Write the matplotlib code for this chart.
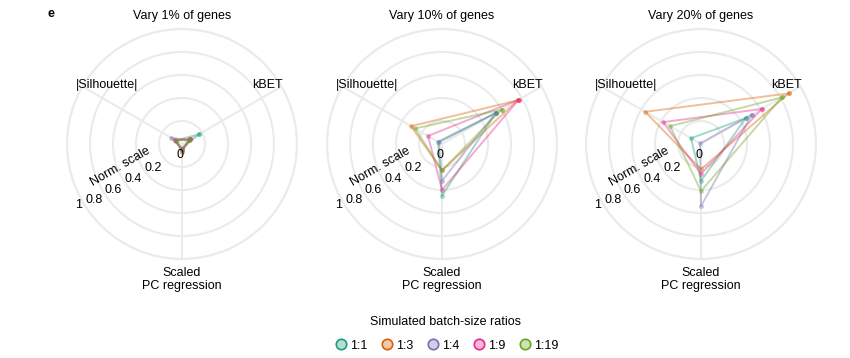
import numpy as np
import matplotlib.pyplot as plt
from matplotlib.lines import Line2D

plt.rcParams['font.family'] = ['Liberation Sans', 'DejaVu Sans']

ratios = ['1:1', '1:3', '1:4', '1:9', '1:19']
colors = ['#1B9E77', '#D95F02', '#7570B3', '#E7298A', '#66A61E']
titles = ['Vary 1% of genes', 'Vary 10% of genes', 'Vary 20% of genes']

# values per ratio (1:1, 1:3, 1:4, 1:9, 1:19)
kbet_1 = [0.17, 0.08, 0.07, 0.08, 0.07]
sil_1 = [0.06, 0.07, 0.11, 0.07, 0.06]
pcr_1 = [0.04, 0.05, 0.04, 0.06, 0.07]

kbet_10 = [0.54, 0.76, 0.54, 0.77, 0.60]
sil_10 = [0.04, 0.31, 0.03, 0.14, 0.27]
pcr_10 = [0.45, 0.23, 0.32, 0.40, 0.23]

kbet_20 = [0.45, 0.88, 0.51, 0.61, 0.81]
sil_20 = [0.10, 0.56, 0.01, 0.38, 0.31]
pcr_20 = [0.32, 0.22, 0.54, 0.26, 0.41]

panels = [(kbet_1, sil_1, pcr_1), (kbet_10, sil_10, pcr_10), (kbet_20, sil_20, pcr_20)]
angles = np.deg2rad([30, 150, 270])
rticks = [0.2, 0.4, 0.6, 0.8, 1.0]
rlabels = ['0', '0.2', '0.4', '0.6', '0.8', '1']
label_dy = [-7.9, -9.2, -8.8, -8.3, -7.2, -2.5]  # points below each ring position
grid_col = '#ebebeb'

W, H = 850, 358
fig = plt.figure(figsize=(8.5, 3.58), dpi=100)
centers = [182, 442, 701]
cy, rad = 144, 115

for i, (kb, si, pc) in enumerate(panels):
    ax = fig.add_axes([(centers[i] - rad) / W, (H - cy - rad) / H, 2 * rad / W, 2 * rad / H],
                      projection='polar')
    ax.set_ylim(0, 1)
    ax.set_yticks(rticks)
    ax.set_yticklabels([])
    ax.set_thetagrids([30, 150, 270], labels=[])
    ax.grid(True, color=grid_col, lw=1.5)
    ax.spines['polar'].set_color(grid_col)
    ax.spines['polar'].set_linewidth(1.5)
    ax.set_facecolor('none')

    for j in range(len(ratios)):
        vals = [kb[j], si[j], pc[j], kb[j]]
        th = list(angles) + [angles[0]]
        ax.plot(th, vals, color=colors[j], alpha=0.4, lw=1.4, marker='o', ms=3.5,
                markeredgewidth=0, clip_on=False)

    ax.text(np.pi / 2, 1.11, titles[i], ha='center', va='center', fontsize=9)
    ax.text(np.deg2rad(34.8), 0.90, 'kBET', ha='center', va='center', fontsize=9)
    ax.text(np.deg2rad(141.6), 0.83, '|Silhouette|', ha='center', va='center', fontsize=9)
    ax.text(np.deg2rad(270), 1.18, 'Scaled\nPC regression', ha='center', va='center',
            fontsize=9, linespacing=1.1)

    # radial scale labels along the lower-left direction
    for r, lab, dy in zip([0.0] + rticks, rlabels, label_dy):
        ax.annotate(lab, xy=(np.deg2rad(210), r), xytext=(1 if r == 0 else 0, dy),
                    textcoords='offset points', ha='right', va='center', fontsize=9,
                    annotation_clip=False)
    ax.annotate('Norm. scale', xy=(np.deg2rad(200), 0.574), ha='center', va='center',
                rotation=30, fontsize=9, annotation_clip=False)

fig.text(47 / W, 1 - 14 / H, 'e', fontsize=9, fontweight='bold', ha='left', va='center')

handles = [Line2D([], [], ls='none', marker='o', ms=7.5, markerfacecolor=c + '55',
                  markeredgecolor=c, markeredgewidth=1.2) for c in colors]
leg = fig.legend(handles, ratios, loc='center', bbox_to_anchor=(446 / W, 1 - 334 / H),
                 ncol=5, frameon=False, fontsize=9, title='Simulated batch-size ratios',
                 title_fontsize=9, handletextpad=0.1, columnspacing=1.0, handlelength=1.2,
                 labelspacing=0.9)

fig.savefig('out.png', dpi=100)
